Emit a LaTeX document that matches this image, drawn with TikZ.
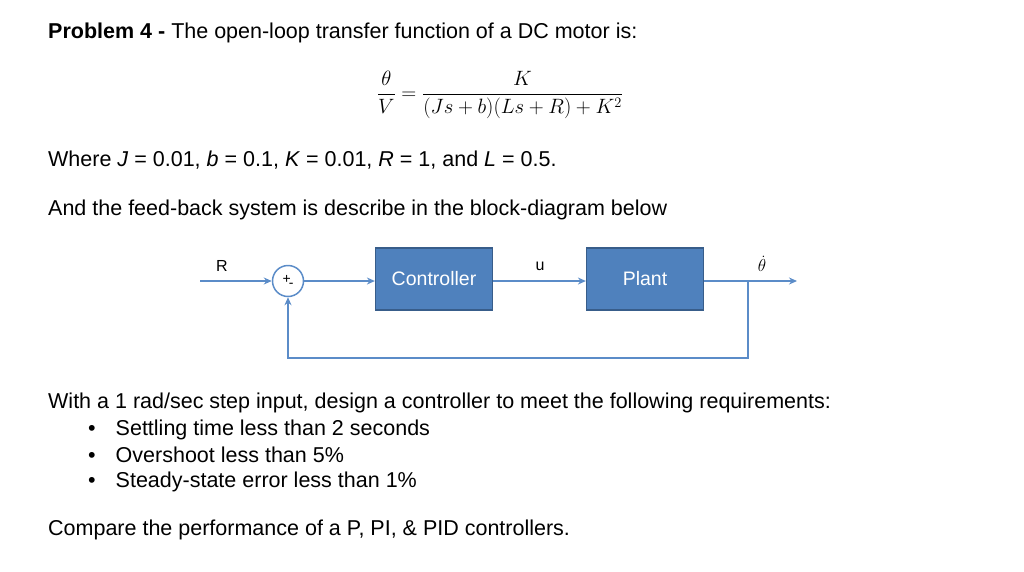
\documentclass[tikz,border=0pt]{standalone}
\usepackage{fontspec}
\usepackage{amsmath}
\setmainfont{Liberation Sans}
\usetikzlibrary{arrows.meta}
\definecolor{boxfill}{HTML}{4F81BD}
\definecolor{boxline}{HTML}{385D8A}
\definecolor{wire}{HTML}{5B8CC8}
\tikzset{
  txt/.style = {anchor = west, font = \fontsize{21.5}{25}\selectfont, inner sep = 0pt},
  block/.style = {draw = boxline, fill = boxfill, line width = 1.2pt, minimum width = 117pt, minimum height = 62pt, text = white, font = \fontsize{19.5}{22}\selectfont},
  wire/.style = {draw = wire, line width = 1.8pt},
  sig/.style = {wire, -{Stealth[length = 8pt, width = 7pt]}},
  lbl/.style = {font = \fontsize{16}{18}\selectfont}
}
\begin{document}
\begin{tikzpicture}[x = 1pt, y = -1pt]
    \useasboundingbox (0, 0) rectangle (1024, 571);

    % Problem text
    \node[txt] (title) at (48, 33) {\textbf{Problem 4 -} The open-loop transfer function of a DC motor is:};
    \node[font = \fontsize{21}{24}\selectfont] (tf) at (500, 95) {$\dfrac{\theta}{V} = \dfrac{K}{(Js + b)(Ls + R) + K^2}$};
    \node[txt] (vals) at (48, 160) {Where \textit{J} = 0.01, \textit{b} = 0.1, \textit{K} = 0.01, \textit{R} = 1, and \textit{L} = 0.5.};
    \node[txt] (fb) at (48, 210) {And the feed-back system is describe in the block-diagram below};

    % Block diagram
    \coordinate (in) at (200, 281);
    \node[circle, draw = wire, line width = 1.5pt, minimum size = 31pt, inner sep = 0pt, font = \fontsize{14}{14}\selectfont] (sum) at (288, 281) {+\kern-2pt\raisebox{-4pt}{-}};
    \node[block] (ctrl) at (434, 279) {Controller};
    \node[block] (plant) at (645, 279) {Plant};
    \coordinate (tap) at (748, 281);
    \coordinate (out) at (797, 281);
    \coordinate (low) at (748, 358);
    \coordinate (lowl) at (288, 358);

    \draw[sig] (in) -- (sum);
    \draw[sig] (sum) -- (ctrl.west |- sum);
    \draw[sig] (ctrl.east |- sum) -- (plant.west |- sum);
    \draw[sig] (plant.east |- sum) -- (out);
    \draw[sig] (tap) -- (low) -- (lowl) -- (sum.south);

    \node[lbl] (rl) at (222, 266) {R};
    \node[lbl] (ul) at (540, 266) {u};
    \node[font = \fontsize{18}{20}\selectfont] (tl) at (762, 264) {$\dot{\theta}$};

    % Requirements
    \node[txt] (step) at (48, 403) {With a 1 rad/sec step input, design a controller to meet the following requirements:};
    \node[txt] (b1) at (88, 430) {\textbullet\hspace{20pt}Settling time less than 2 seconds};
    \node[txt] (b2) at (88, 455) {\textbullet\hspace{20pt}Overshoot less than 5\%};
    \node[txt] (b3) at (88, 482) {\textbullet\hspace{20pt}Steady-state error less than 1\%};
    \node[txt] (cmp) at (48, 530) {Compare the performance of a P, PI, \& PID controllers.};
\end{tikzpicture}
\end{document}
